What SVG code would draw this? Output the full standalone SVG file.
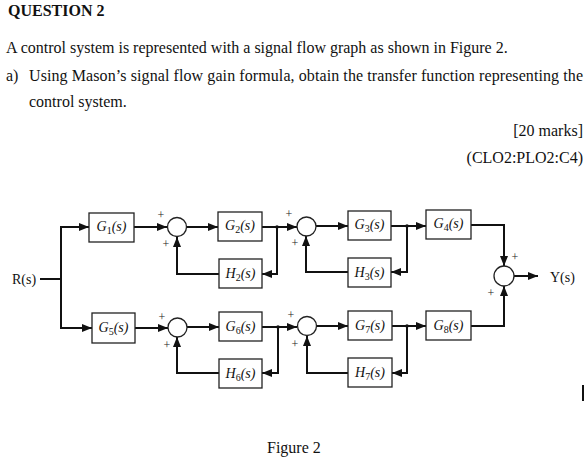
<svg xmlns="http://www.w3.org/2000/svg" width="588" height="461" viewBox="0 0 588 461">
<style>
.t{font-family:"Liberation Serif","Times New Roman",serif;font-size:16px;fill:#111}
.b{fill:#fff;stroke:#222;stroke-width:1.3}
.s{fill:#fff;stroke:#222;stroke-width:1.3}
.l{font-family:"Liberation Serif","Times New Roman",serif;font-size:14px;font-style:italic;fill:#111}
.sub{font-size:10px;font-style:normal}
.p{font-family:"Liberation Serif","Times New Roman",serif;font-size:12px;fill:#222}
.io{font-family:"Liberation Serif","Times New Roman",serif;font-size:14px;fill:#111}
.c{fill:none;stroke:#111;stroke-width:2}
</style>
<defs>
<marker id="ah" markerUnits="userSpaceOnUse" markerWidth="10" markerHeight="8" refX="10" refY="4" orient="auto">
<path d="M0,0 L10,4 L0,8 z" fill="#111"/>
</marker>
</defs>
<rect width="588" height="461" fill="#fff"/>
<g id="question">
<text class="t" x="8" y="16" font-weight="bold">QUESTION 2</text>
<text class="t" x="6" y="53">A control system is represented with a signal flow graph as shown in Figure 2.</text>
<text class="t" x="6" y="81">a)</text>
<text class="t" x="29" y="81" textLength="554" lengthAdjust="spacing">Using Mason’s signal flow gain formula, obtain the transfer function representing the</text>
<text class="t" x="29" y="107">control system.</text>
<text class="t" x="583" y="136" text-anchor="end">[20 marks]</text>
<text class="t" x="583" y="163" text-anchor="end">(CLO2:PLO2:C4)</text>
<text class="t" x="267" y="453">Figure 2</text>
</g>
<g id="connectors">
<path class="c" d="M40,279 H61"/>
<path class="c" d="M61,226 V328"/>
<path class="c" d="M61,227 H89" marker-end="url(#ah)"/>
<path class="c" d="M134,227 H167" marker-end="url(#ah)"/>
<path class="c" d="M186,227 H218" marker-end="url(#ah)"/>
<path class="c" d="M262,227 H297" marker-end="url(#ah)"/>
<path class="c" d="M277,227 V274 H262" marker-end="url(#ah)"/>
<path class="c" d="M219,274 H177 V237" marker-end="url(#ah)"/>
<path class="c" d="M316,226 H348" marker-end="url(#ah)"/>
<path class="c" d="M391,226 H426" marker-end="url(#ah)"/>
<path class="c" d="M407,226 V272 H391" marker-end="url(#ah)"/>
<path class="c" d="M348,272 H306 V236" marker-end="url(#ah)"/>
<path class="c" d="M471,225 H504 V266" marker-end="url(#ah)"/>
<path class="c" d="M514,276 H538" marker-end="url(#ah)"/>
<path class="c" d="M60,328 H92" marker-end="url(#ah)"/>
<path class="c" d="M135,328 H168" marker-end="url(#ah)"/>
<path class="c" d="M187,327 H219" marker-end="url(#ah)"/>
<path class="c" d="M262,327 H297" marker-end="url(#ah)"/>
<path class="c" d="M278,327 V373 H262" marker-end="url(#ah)"/>
<path class="c" d="M219,373 H177 V337" marker-end="url(#ah)"/>
<path class="c" d="M317,326 H348" marker-end="url(#ah)"/>
<path class="c" d="M392,326 H426" marker-end="url(#ah)"/>
<path class="c" d="M407,326 V373 H392" marker-end="url(#ah)"/>
<path class="c" d="M348,373 H307 V336" marker-end="url(#ah)"/>
<path class="c" d="M471,326 H504 V286" marker-end="url(#ah)"/>
<circle cx="277" cy="227" r="1.8" fill="#111"/>
<circle cx="407" cy="226" r="1.8" fill="#111"/>
<circle cx="278" cy="327" r="1.8" fill="#111"/>
<circle cx="407" cy="326" r="1.8" fill="#111"/>
</g>
<g id="R">
<text class="io" x="12" y="284">R(s)</text>
</g>
<g id="Y">
<text class="io" x="550" y="282">Y(s)</text>
</g>
<g id="G1"><rect class="b" x="89" y="213" width="45" height="29"/><text class="l" x="111.5" y="231" text-anchor="middle">G<tspan class="sub" dy="3">1</tspan><tspan dy="-3">(s)</tspan></text></g>
<g id="G2"><rect class="b" x="218" y="212" width="44" height="29"/><text class="l" x="240" y="230" text-anchor="middle">G<tspan class="sub" dy="3">2</tspan><tspan dy="-3">(s)</tspan></text></g>
<g id="H2"><rect class="b" x="219" y="259" width="43" height="29"/><text class="l" x="240.5" y="278" text-anchor="middle">H<tspan class="sub" dy="3">2</tspan><tspan dy="-3">(s)</tspan></text></g>
<g id="G3"><rect class="b" x="348" y="211" width="43" height="29"/><text class="l" x="369.5" y="229" text-anchor="middle">G<tspan class="sub" dy="3">3</tspan><tspan dy="-3">(s)</tspan></text></g>
<g id="G4"><rect class="b" x="426" y="210" width="45" height="29"/><text class="l" x="448.5" y="228" text-anchor="middle">G<tspan class="sub" dy="3">4</tspan><tspan dy="-3">(s)</tspan></text></g>
<g id="H3"><rect class="b" x="348" y="258" width="43" height="29"/><text class="l" x="369.5" y="277" text-anchor="middle">H<tspan class="sub" dy="3">3</tspan><tspan dy="-3">(s)</tspan></text></g>
<g id="G5"><rect class="b" x="92" y="313" width="43" height="30"/><text class="l" x="113.5" y="332" text-anchor="middle">G<tspan class="sub" dy="3">5</tspan><tspan dy="-3">(s)</tspan></text></g>
<g id="G6"><rect class="b" x="219" y="312" width="43" height="29"/><text class="l" x="240.5" y="331" text-anchor="middle">G<tspan class="sub" dy="3">6</tspan><tspan dy="-3">(s)</tspan></text></g>
<g id="H6"><rect class="b" x="219" y="359" width="43" height="29"/><text class="l" x="240.5" y="378" text-anchor="middle">H<tspan class="sub" dy="3">6</tspan><tspan dy="-3">(s)</tspan></text></g>
<g id="G7"><rect class="b" x="348" y="311" width="44" height="29"/><text class="l" x="370" y="330" text-anchor="middle">G<tspan class="sub" dy="3">7</tspan><tspan dy="-3">(s)</tspan></text></g>
<g id="G8"><rect class="b" x="426" y="311" width="45" height="29"/><text class="l" x="448.5" y="330" text-anchor="middle">G<tspan class="sub" dy="3">8</tspan><tspan dy="-3">(s)</tspan></text></g>
<g id="H7"><rect class="b" x="348" y="358" width="44" height="29"/><text class="l" x="370" y="377" text-anchor="middle">H<tspan class="sub" dy="3">7</tspan><tspan dy="-3">(s)</tspan></text></g>
<g id="S1"><circle class="s" cx="177" cy="227" r="9.5"/><text class="p" x="161" y="219" text-anchor="middle">+</text><text class="p" x="166" y="248" text-anchor="middle">+</text></g>
<g id="S2"><circle class="s" cx="306.5" cy="226.5" r="9.5"/><text class="p" x="289" y="218" text-anchor="middle">+</text><text class="p" x="295" y="247" text-anchor="middle">+</text></g>
<g id="S3"><circle class="s" cx="177.5" cy="327.5" r="9.5"/><text class="p" x="162" y="321" text-anchor="middle">+</text><text class="p" x="167" y="349" text-anchor="middle">+</text></g>
<g id="S4"><circle class="s" cx="307" cy="326" r="9.5"/><text class="p" x="291" y="319" text-anchor="middle">+</text><text class="p" x="295" y="348" text-anchor="middle">+</text></g>
<g id="S5"><circle class="s" cx="504" cy="276" r="10"/><text class="p" x="515" y="261" text-anchor="middle">+</text><text class="p" x="491" y="297" text-anchor="middle">+</text></g>
<rect x="582" y="385" width="2" height="16" fill="#111"/>
</svg>
